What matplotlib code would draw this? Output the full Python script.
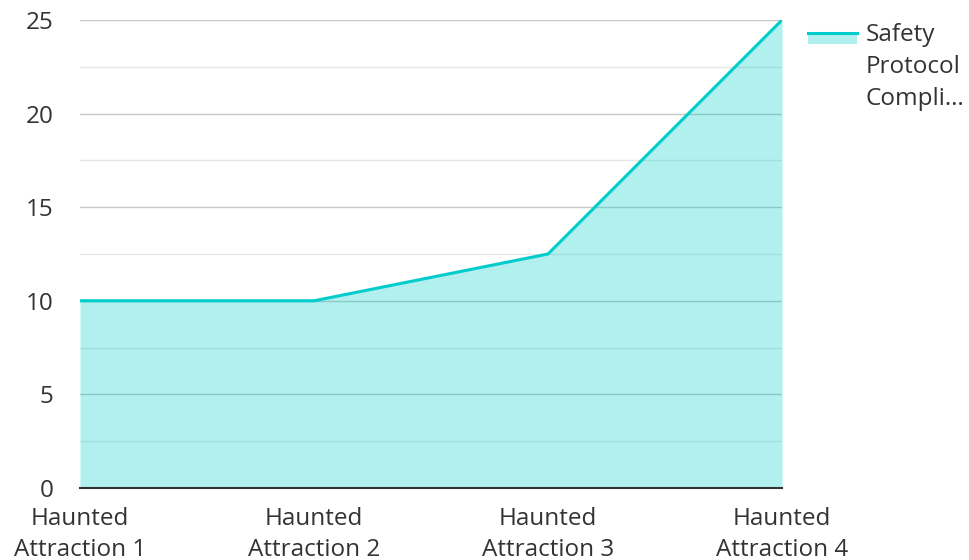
import matplotlib; matplotlib.use("Agg")
import matplotlib.pyplot as plt
from matplotlib.patches import Rectangle
from matplotlib.lines import Line2D
from matplotlib.legend_handler import HandlerBase
from matplotlib.offsetbox import HPacker

categories = ["Haunted\nAttraction 1", "Haunted\nAttraction 2", "Haunted\nAttraction 3", "Haunted\nAttraction 4"]
values = [10, 10, 12.5, 25]
series_name = "Safety\nProtocol\nCompli…"
yticks = [0, 5, 10, 15, 20, 25]

plt.rcParams['font.family'] = ['Open Sans', 'DejaVu Sans']
line_c = "#00cccc"
FS = 17.5

class AreaHandler(HandlerBase):
    # line on top, translucent area below it
    def create_artists(self, legend, orig_handle, xdescent, ydescent, width, height, fontsize, trans):
        yl = -ydescent + height * 0.52
        rect = Rectangle((-xdescent, -ydescent), width, height * 0.52, facecolor=line_c,
                         alpha=0.3, lw=0, transform=trans)
        ln = Line2D([-xdescent, -xdescent + width], [yl, yl], color=line_c, lw=2.2, transform=trans)
        return [rect, ln]

fig = plt.figure(figsize=(9.69, 5.6), dpi=100)
ax = fig.add_axes([80/969, 72/560, 702/969, 468/560])
x = list(range(len(categories)))
ax.set_axisbelow(True)
ax.fill_between(x, values, 0, color=line_c, alpha=0.3, lw=0, zorder=2)
ax.plot(x, values, color=line_c, lw=2.2, zorder=3)
ax.set_xlim(0, len(categories) - 1)
ax.set_ylim(0, 25)
ax.set_yticks(yticks)
ax.set_yticks([2.5, 7.5, 12.5, 17.5, 22.5], minor=True)
ax.grid(True, which="major", axis="y", color="#c8c8c8", lw=1)
ax.grid(True, which="minor", axis="y", color="#e6e6e6", lw=1)
ax.set_xticks(x)
ax.set_xticklabels(categories, fontsize=FS, color="#333333", linespacing=1.38)
ax.tick_params(axis="y", labelsize=FS, labelcolor="#333333", length=0, pad=19)
ax.tick_params(axis="y", which="minor", length=0)
ax.tick_params(axis="x", length=0, pad=14)
for s in ["top", "right", "left"]:
    ax.spines[s].set_visible(False)
ax.spines["bottom"].set_color("#333333")
ax.spines["bottom"].set_linewidth(1.5)
ax.spines["bottom"].set_zorder(4)

leg = fig.legend([object()], [series_name], handler_map={object: AreaHandler()},
                 loc="upper left", bbox_to_anchor=(808/969, 1 - 23/560),
                 frameon=False, fontsize=FS, handlelength=2.0, handleheight=0.95,
                 handletextpad=0.37, borderpad=0, borderaxespad=0)
for t in leg.get_texts():
    t.set_color("#333333")
    t.set_linespacing(1.45)
for hp in leg.findobj(HPacker):
    hp.align = "top"
fig.savefig("out.png", dpi=100)
